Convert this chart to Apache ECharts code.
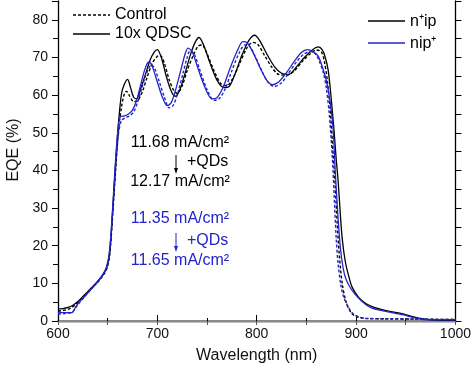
<!DOCTYPE html>
<html>
<head>
<meta charset="utf-8">
<script src="https://cdn.jsdelivr.net/npm/echarts@6/dist/echarts.min.js"></script>
<style>html,body{margin:0;padding:0;background:#fff;}#c{width:474px;height:369px;}</style>
</head>
<body>
<div id="c"></div>
<script>
// ---- data (wavelength in nm, EQE in %) ----
const xTicks = [600, 700, 800, 900, 1000];
const yTicks = [0, 10, 20, 30, 40, 50, 60, 70, 80];

const npipQdscWl  = [600,605,610,615,620,625,630,635,640,645,649,652,655,658,661,664,667,670,673,676,679,683,688,693,697,700,704,709,714,718,722,727,733,738,742,747,753,760,767,772,778,785,792,798,803,810,818,825,832,840,848,856,862,866,869,872,875,878,880,882,884,886,889,892,896,902,908,916,925,935,945,955,965,975,990,1000];
const npipQdscEqe = [3.2,3.3,3.6,4.2,5.2,6.5,7.8,9.2,10.6,12.2,14.2,18,29,42,53,60.5,63,64.2,62,59.5,59,61.5,65.5,69.5,71.5,72.1,70,65,61,59.7,61,65,70.5,74,75.3,73,68.5,64,62,62.2,65.5,70.5,74.5,75.9,74.5,71,67.5,65.8,65.5,67.5,70,72,72.8,72,70,66.5,59,50,43,37,29,22,16,12.5,9,6.5,5,3.8,3.1,2.5,2.0,1.3,0.7,0.3,0.2,0.2];

const npipCtrlWl  = [600,605,610,615,620,625,630,635,640,645,649,652,655,658,661,664,667,669,672,676,680,685,690,695,700,703,707,712,717,720,725,730,736,741,745,750,757,764,770,776,783,790,796,801,808,815,822,830,838,846,854,860,865,868,871,874,877,879,881,883,886,890,895,900,910,930,960,1000];
const npipCtrlEqe = [2.6,2.8,3.1,3.8,4.9,6.3,7.6,9,10.3,12,13.8,17.5,28,40,51,57,60.5,61,59.8,58.3,58.5,61,65,68.5,70.3,70.5,68.5,64,61,60.5,62.5,66.5,70.5,73,73.3,71,66.5,63,62.5,64.5,68.5,72.5,74,73.5,70.5,67.5,65.5,65.3,66.5,69,71,72,71.5,69,64,56,44,36,26,18,10,5,2.2,1.2,0.7,0.6,0.5,0.4];

const nippQdscWl  = [600,607,614,618,622,626,630,635,640,645,649,652,655,658,661,663,667,671,675,679,683,687,690,692,695,700,705,710,714,719,724,728,731,735,741,748,755,760,766,773,780,786,790,796,803,810,816,822,830,838,845,851,857,862,866,870,874,877,879,881,884,887,890,895,902,910,916,925,935,948,958,968,980,1000];
const nippQdscEqe = [2.2,2.2,2.2,3.8,5.2,6.3,7.5,9,10.5,12.3,14.5,19,30,43,52.5,54.3,54.5,55,56,58.5,62.5,66.5,68.5,68.8,67.5,63.5,59.5,57.2,58,62,67,71,72.5,71.5,67,62,59,59.3,62,67,71.5,74.2,74,71.5,67.5,64,62.8,63.5,66,69,71.3,72.1,71.5,70.3,67.5,64,58,50.8,40,31,20,14,11,8.5,6.2,4.3,3.4,2.8,2.3,1.6,0.9,0.4,0.3,0.3];

const nippCtrlWl  = [600,607,614,618,622,626,630,635,640,645,649,652,655,658,661,664,668,672,676,680,684,688,692,694,697,702,707,712,716,721,726,730,733,737,743,750,757,762,768,775,782,788,792,798,805,812,818,825,832,840,847,854,859,863,867,870,873,876,878,880,882,885,888,892,896,900,906,915,950,1000];
const nippCtrlEqe = [1.8,2,2.3,3.6,5,6.2,7.4,8.9,10.4,12.2,14.2,18.5,29,41,50,53.3,54,54.5,55.5,58,61.5,65,67.5,68,67.2,63.5,59.5,56.6,57.3,61,66,70,71.8,71,66.5,61.5,58.6,59,61.5,66.5,71,73.3,73.2,70.5,66.5,63.2,62.3,63.3,65.8,68.8,70.8,71.6,71,69,66,62,55,44,33,22,15,9,6,3.8,2.2,1.4,0.8,0.6,0.5,0.4];

const legendLeft  = ['Control', '10x QDSC'];
const legendRight = ['n\u207Aip', 'nip\u207A'];
const blackAnno = ['11.68 mA/cm\u00B2', '+QDs', '12.17 mA/cm\u00B2'];
const blueAnno  = ['11.35 mA/cm\u00B2', '+QDs', '11.65 mA/cm\u00B2'];

// ---- chart ----
const BLUE = '#2424c8';
const FONT = '"Liberation Sans", Arial, sans-serif';
const zip = (a, b) => a.map((v, i) => [v, b[i]]);
const chart = echarts.init(document.getElementById('c'), null, {renderer: 'canvas'});

function txt(x, y, s, color, align) {
  return { type: 'text', x: x, y: y, z: 100,
    style: { text: s, fill: color, font: '16px ' + FONT, textAlign: align || 'left', textVerticalAlign: 'middle' } };
}
function seg(x1, y1, x2, y2, color, dash) {
  return { type: 'line', z: 100, shape: { x1, y1, x2, y2 }, style: { stroke: color, lineWidth: 1.5, lineDash: dash || null } };
}
function arrow(x, y1, y2, color) {
  return [
    { type: 'line', z: 100, shape: { x1: x, y1: y1, x2: x, y2: y2 - 4 }, style: { stroke: color, lineWidth: 1 } },
    { type: 'polygon', z: 100, shape: { points: [[x - 2, y2 - 6], [x + 2, y2 - 6], [x, y2]] }, style: { fill: color } }
  ];
}

const option = {
  backgroundColor: '#fff',
  animation: false,
  grid: { left: 58, right: 17, top: 1, bottom: 48 },
  xAxis: [
    { type: 'value', position: 'bottom', min: xTicks[0], max: xTicks[xTicks.length - 1], interval: 100,
      axisLine: { lineStyle: { color: '#000', width: 1.3 } },
      axisTick: { inside: true, length: 6, lineStyle: { color: '#000' } },
      minorTick: { show: true, splitNumber: 2, length: 3, lineStyle: { color: '#000' } },
      axisLabel: { fontSize: 14, color: '#111', fontFamily: FONT, margin: 6, formatter: (v) => String(v) },
      splitLine: { show: false },
      name: 'Wavelength (nm)', nameLocation: 'middle', nameGap: 27,
      nameTextStyle: { fontSize: 16, color: '#111', fontFamily: FONT } },
    { type: 'value', position: 'top', min: 600, max: 1000, interval: 50,
      axisLine: { show: true, lineStyle: { color: '#8a8a8a', width: 2 } },
      axisTick: { inside: true, length: 4, lineStyle: { color: '#555' } },
      axisLabel: { show: false }, splitLine: { show: false } }
  ],
  yAxis: [
    { type: 'value', position: 'left', min: 0, max: 85, interval: 10,
      axisLine: { show: true, lineStyle: { color: '#000', width: 1.3 } },
      axisTick: { show: true, inside: false, length: 6, lineStyle: { color: '#000' } },
      minorTick: { show: true, splitNumber: 2, length: 5, lineStyle: { color: '#000' } },
      axisLabel: { fontSize: 14, color: '#111', fontFamily: FONT, margin: 10, showMaxLabel: false },
      splitLine: { show: false } },
    { type: 'value', position: 'right', min: 0, max: 85, interval: 5,
      axisLine: { show: true, lineStyle: { color: '#000', width: 1.3 } },
      axisTick: { show: true, inside: false, length: 6, lineStyle: { color: '#000' } },
      axisLabel: { show: false }, splitLine: { show: false } }
  ],
  series: [
    { name: 'n+ip control', type: 'line', showSymbol: false, smooth: 0.3, data: zip(npipCtrlWl, npipCtrlEqe),
      lineStyle: { color: '#000', width: 1.4, type: [3, 2] } },
    { name: 'n+ip QDSC', type: 'line', showSymbol: false, smooth: 0.3, data: zip(npipQdscWl, npipQdscEqe),
      lineStyle: { color: '#000', width: 1.3 } },
    { name: 'nip+ control', type: 'line', showSymbol: false, smooth: 0.3, data: zip(nippCtrlWl, nippCtrlEqe),
      lineStyle: { color: BLUE, width: 1.4, type: [3, 2] } },
    { name: 'nip+ QDSC', type: 'line', showSymbol: false, smooth: 0.3, data: zip(nippQdscWl, nippQdscEqe),
      lineStyle: { color: BLUE, width: 1.3 } }
  ],
  graphic: [
    { type: 'text', x: 14, y: 150, rotation: Math.PI / 2, z: 100,
      style: { text: 'EQE (%)', fill: '#111', font: '16px ' + FONT, textAlign: 'center', textVerticalAlign: 'middle' } },
    seg(73, 15, 110, 15, '#000', [3, 2]),
    txt(115, 15, legendLeft[0], '#000'),
    seg(73, 34, 110, 34, '#000'),
    txt(115, 34, legendLeft[1], '#000'),
    seg(368, 21, 405, 21, '#000'),
    txt(410, 22, legendRight[0], '#000'),
    seg(368, 43, 405, 43, BLUE),
    txt(410, 44, legendRight[1], '#000'),
    txt(180, 143, blackAnno[0], '#000', 'center'),
    ...arrow(176, 155, 174, '#000'),
    txt(187, 162, blackAnno[1], '#000'),
    txt(180, 182, blackAnno[2], '#000', 'center'),
    txt(180, 219, blueAnno[0], BLUE, 'center'),
    ...arrow(176, 233, 252, BLUE),
    txt(187, 241, blueAnno[1], BLUE),
    txt(180, 261, blueAnno[2], BLUE, 'center')
  ]
};
chart.setOption(option);
</script>
</body>
</html>
